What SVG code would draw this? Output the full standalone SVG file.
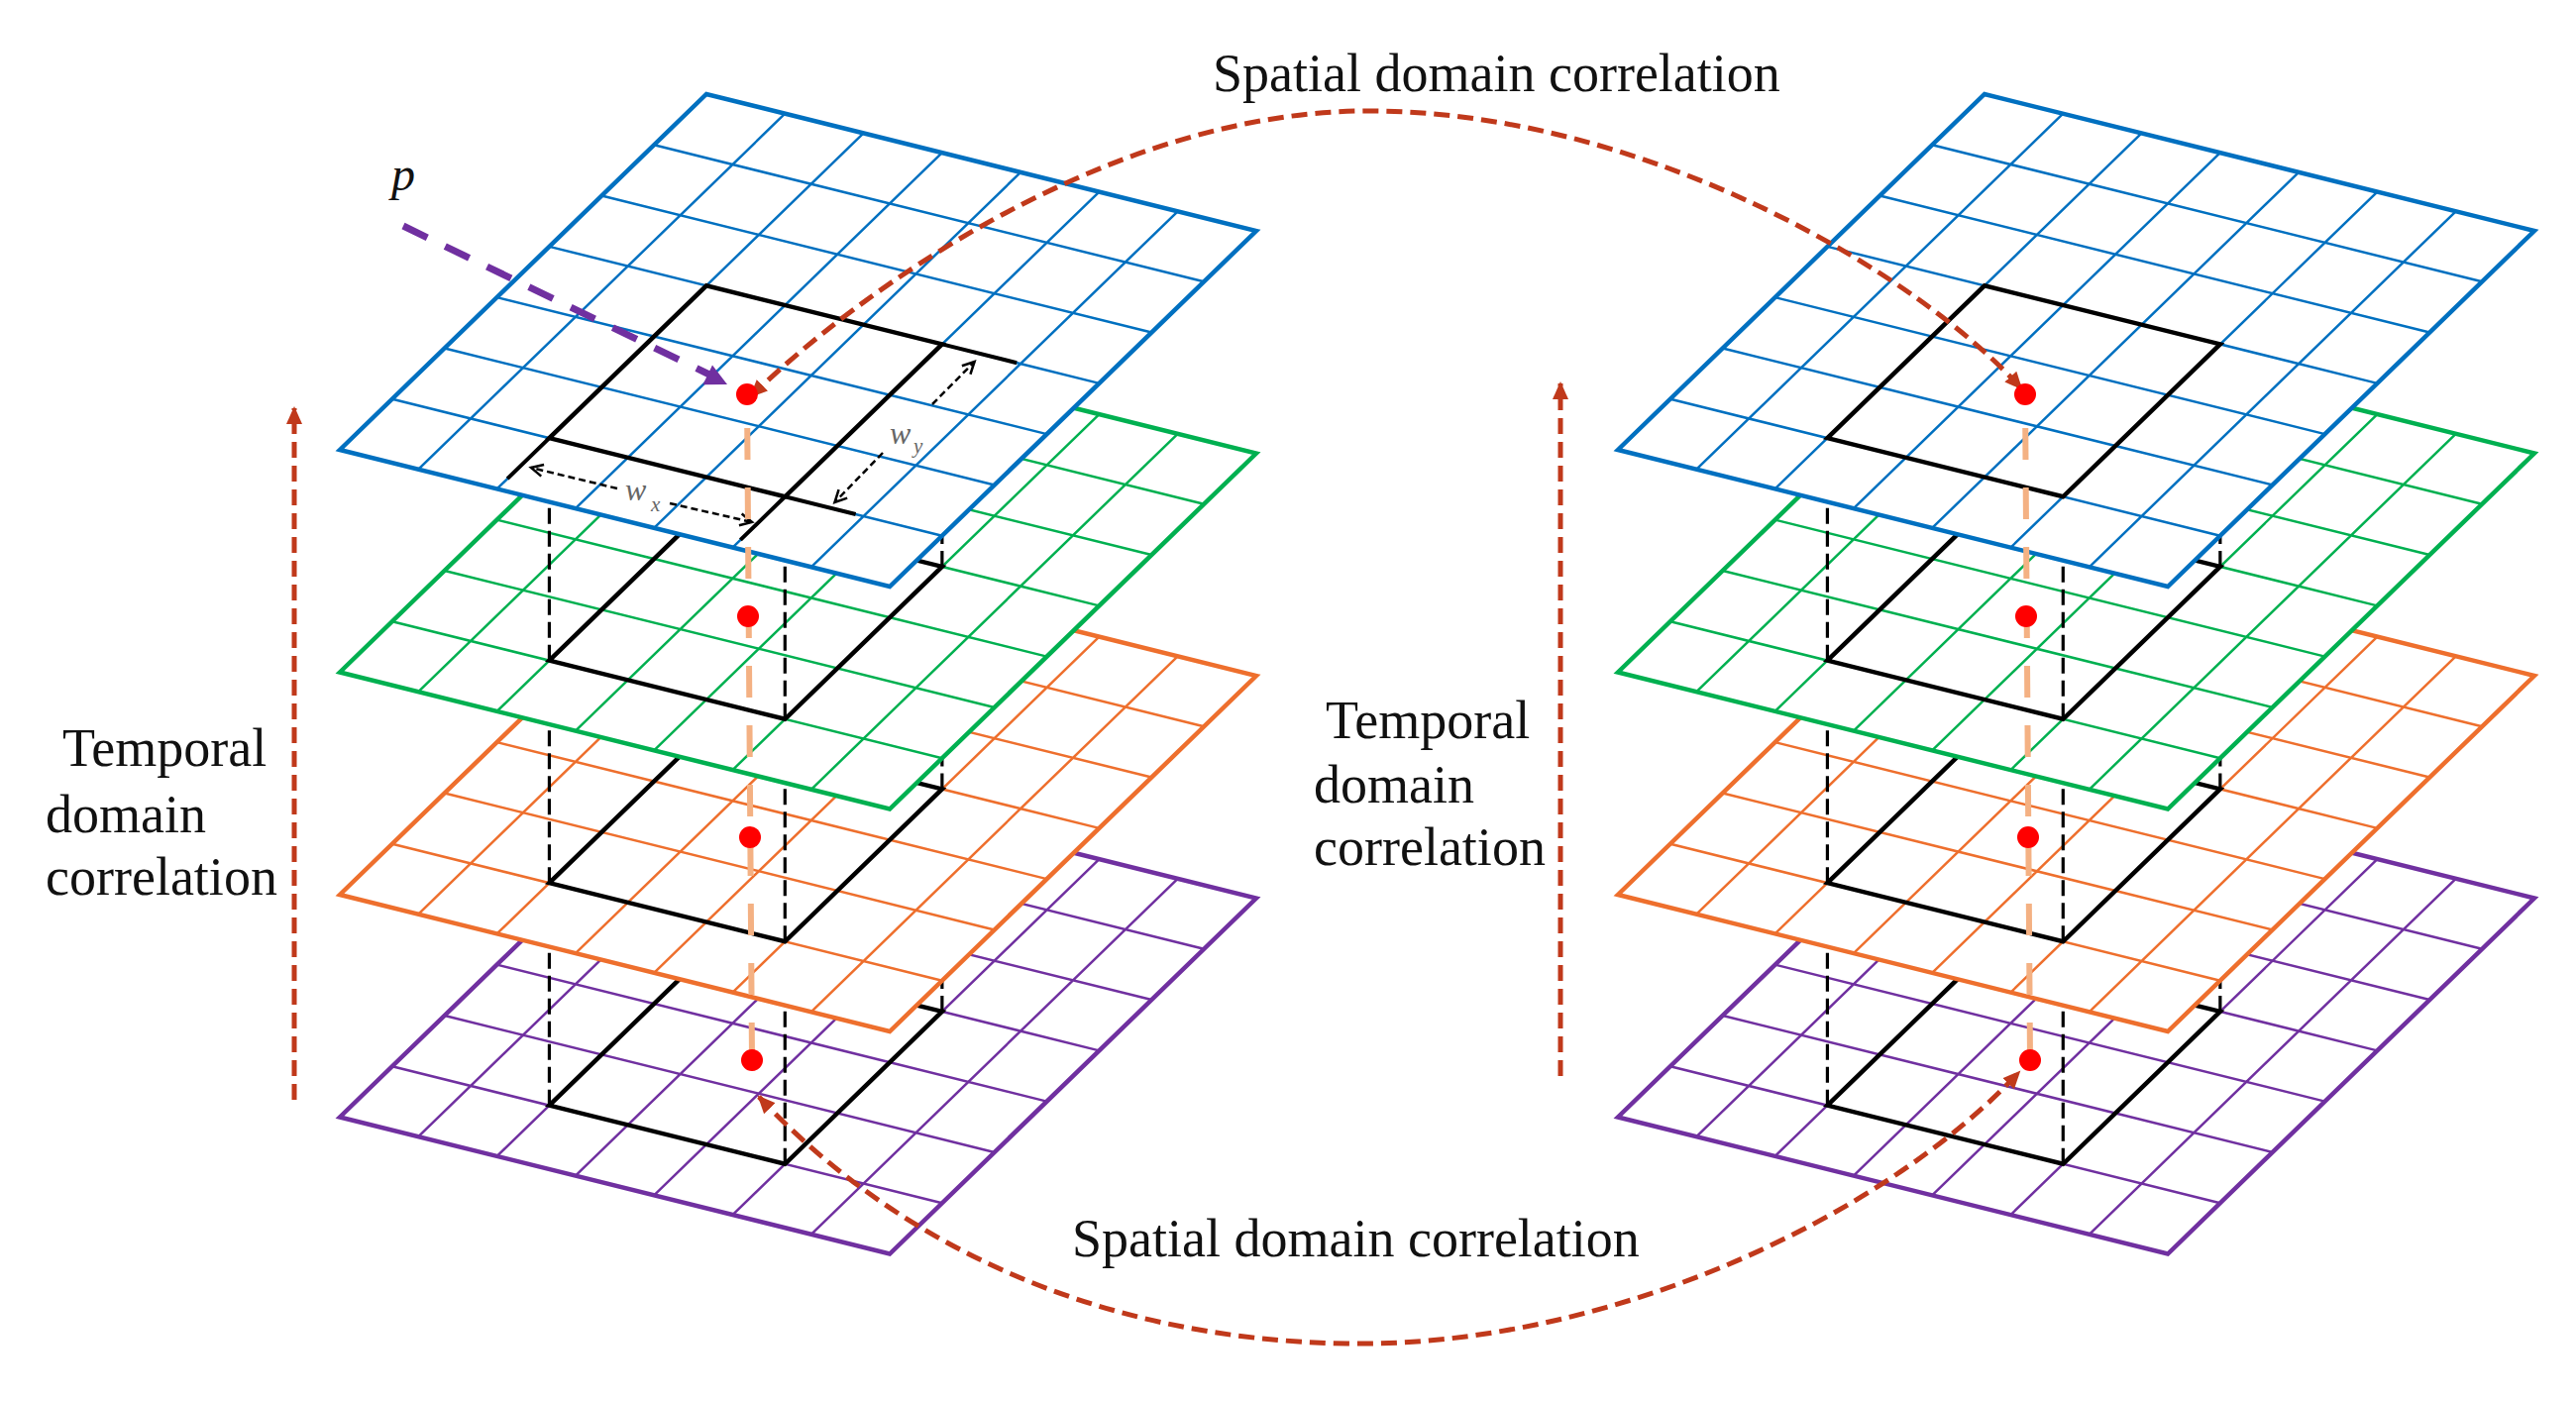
<svg xmlns="http://www.w3.org/2000/svg" xmlns:xlink="http://www.w3.org/1999/xlink" width="2600" height="1415" viewBox="0 0 2600 1415">
<style>
.lbl{font-family:"Liberation Serif","Times New Roman",serif;font-size:54px;fill:#111}
.dim{font-family:"Liberation Serif","Times New Roman",serif;font-style:italic;fill:#666}
.brown{fill:none;stroke:#C0391B;stroke-width:5;stroke-dasharray:16 8}
.riser{fill:none;stroke:#000;stroke-width:3.2;stroke-dasharray:16 7}
.dot{fill:#FF0000}
</style>
<defs>
<marker id="bh" markerUnits="userSpaceOnUse" markerWidth="20" markerHeight="18" refX="16" refY="8" orient="auto-start-reverse" viewBox="0 0 20 16">
<path d="M0,0 L18,8 L0,16 z" fill="#C0391B"/>
</marker>
<marker id="dh" markerUnits="userSpaceOnUse" markerWidth="16" markerHeight="16" refX="13" refY="7" orient="auto-start-reverse" viewBox="0 0 16 14">
<path d="M1,1 L13,7 L1,13" fill="none" stroke="#000" stroke-width="2.5"/>
</marker>
<g id="plane">
<polygon points="0,0 555,138 925,-221 370,-359" fill="#fff"/>
<path fill="none" stroke="currentColor" stroke-width="2.5" d="M79.29,19.71 L449.29,-339.29 M158.57,39.43 L528.57,-319.57 M237.86,59.14 L607.86,-299.86 M317.14,78.86 L687.14,-280.14 M396.43,98.57 L766.43,-260.43 M475.71,118.29 L845.71,-240.71 M52.86,-51.29 L607.86,86.71 M105.71,-102.57 L660.71,35.43 M158.57,-153.86 L713.57,-15.86 M211.43,-205.14 L766.43,-67.14 M264.29,-256.43 L819.29,-118.43 M317.14,-307.71 L872.14,-169.71"/>
<polygon points="0,0 555,138 925,-221 370,-359" fill="none" stroke="currentColor" stroke-width="4.5"/>
<polygon points="211.43,-11.86 449.29,47.29 607.86,-106.57 370,-165.71" fill="none" stroke="#000" stroke-width="4.5"/>
</g>
<path id="risers" class="riser" d="M211.43,-11.86 V-236.36 M449.29,47.29 V-177.21 M607.86,-106.57 V-331.07 M370,-165.71 V-390.21"/>
</defs>

<g id="left-stack">
<g id="left-plane-purple"><use href="#plane" transform="translate(343,1127.5)" color="#7030A0"/></g>
<use href="#risers" transform="translate(343,1127.5)"/>
<g id="left-plane-orange"><use href="#plane" transform="translate(343,903)" color="#EE6F2D"/></g>
<use href="#risers" transform="translate(343,903)"/>
<g id="left-plane-green"><use href="#plane" transform="translate(343,678.5)" color="#00B050"/></g>
<use href="#risers" transform="translate(343,678.5)"/>
<g id="left-plane-blue"><use href="#plane" transform="translate(343,454)" color="#0070C0"/>
<path d="M554.43,442.14 L512.14,483.17 M792.29,501.29 L747.36,544.88 M792.29,501.29 L863.65,519.02 M950.86,347.43 L1026.2,366.2" stroke="#000" stroke-width="4" fill="none"/>
</g>
</g>

<g id="right-stack">
<g id="right-plane-purple"><use href="#plane" transform="translate(1633,1127.5)" color="#7030A0"/></g>
<use href="#risers" transform="translate(1633,1127.5)"/>
<g id="right-plane-orange"><use href="#plane" transform="translate(1633,903)" color="#EE6F2D"/></g>
<use href="#risers" transform="translate(1633,903)"/>
<g id="right-plane-green"><use href="#plane" transform="translate(1633,678.5)" color="#00B050"/></g>
<use href="#risers" transform="translate(1633,678.5)"/>
<g id="right-plane-blue"><use href="#plane" transform="translate(1633,454)" color="#0070C0"/></g>
</g>

<g id="dimensions">
<path d="M623,493 L536,472" fill="none" stroke="#000" stroke-width="2.5" stroke-dasharray="7 4" marker-end="url(#dh)"/>
<path d="M676,508 L759,527" fill="none" stroke="#000" stroke-width="2.5" stroke-dasharray="7 4" marker-end="url(#dh)"/>
<path d="M941,408 L983.6,365" fill="none" stroke="#000" stroke-width="2.5" stroke-dasharray="7 4" marker-end="url(#dh)"/>
<path d="M891,457 L842.5,507" fill="none" stroke="#000" stroke-width="2.5" stroke-dasharray="7 4" marker-end="url(#dh)"/>
<text class="dim" x="631" y="505" font-size="32">w</text>
<text class="dim" x="657" y="516" font-size="21">x</text>
<text class="dim" x="898" y="448" font-size="32">w</text>
<text class="dim" x="922" y="457" font-size="21">y</text>
</g>

<g id="connectors">
<line x1="754" y1="398" x2="759" y2="1070" stroke="#F4B183" stroke-width="6" stroke-dasharray="32 28" stroke-dashoffset="26"/>
<line x1="2044" y1="398" x2="2049" y2="1070" stroke="#F4B183" stroke-width="6" stroke-dasharray="32 28" stroke-dashoffset="26"/>
<line x1="407" y1="228" x2="716" y2="378" stroke="#7030A0" stroke-width="7" stroke-dasharray="27 20"/>
<polygon points="734,388 709.4,388.2 719,368.4" fill="#7030A0"/>
<path class="brown" d="M297,1110 V412" marker-end="url(#bh)"/>
<path class="brown" d="M1575,1086 V387" marker-end="url(#bh)"/>
<path class="brown" d="M758,400 C860,300 1120,108 1390,112 C1670,116 1940,280 2040,392" marker-start="url(#bh)" marker-end="url(#bh)"/>
<path class="brown" d="M766,1107 C900,1250 1100,1352 1360,1356 C1620,1360 1900,1230 2038,1082" marker-start="url(#bh)" marker-end="url(#bh)"/>
</g>

<g id="dots">
<circle class="dot" cx="754" cy="398" r="11"/>
<circle class="dot" cx="755" cy="622" r="11"/>
<circle class="dot" cx="757" cy="845" r="11"/>
<circle class="dot" cx="759" cy="1070" r="11"/>
<circle class="dot" cx="2044" cy="398" r="11"/>
<circle class="dot" cx="2045" cy="622" r="11"/>
<circle class="dot" cx="2047" cy="845" r="11"/>
<circle class="dot" cx="2049" cy="1070" r="11"/>
</g>

<g id="labels">
<text class="dim" x="395" y="192" font-size="48" style="fill:#111">p</text>
<text class="lbl" x="1224" y="92">Spatial domain correlation</text>
<text class="lbl" x="1082" y="1268">Spatial domain correlation</text>
<text class="lbl" x="63" y="773">Temporal</text>
<text class="lbl" x="46" y="840">domain</text>
<text class="lbl" x="46" y="903">correlation</text>
<text class="lbl" x="1338" y="745">Temporal</text>
<text class="lbl" x="1326" y="810">domain</text>
<text class="lbl" x="1326" y="873">correlation</text>
</g>
</svg>
